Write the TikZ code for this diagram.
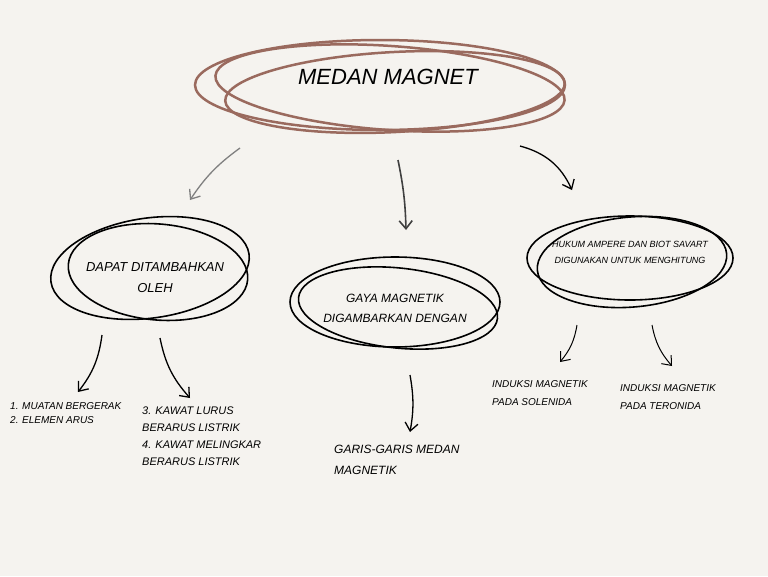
\documentclass[tikz,border=0pt]{standalone}
\usepackage{fontspec}
\setmainfont{Liberation Sans}
\usetikzlibrary{arrows.meta}
\definecolor{bg}{HTML}{F5F3EF}
\definecolor{brn}{HTML}{9A6A5E}
\begin{document}
\begin{tikzpicture}[x=1pt,y=-1pt,
  txt/.style={font=\itshape\fontsize{11}{13}\selectfont, align=left, inner sep=0pt},
  ctxt/.style={font=\itshape\fontsize{11}{13}\selectfont, align=center, inner sep=0pt},
  ink/.style={line width=1.6pt, black},
  arr/.style={line width=1.3pt, -{Straight Barb[length=8pt,width=13pt]}}]
\fill[bg] (0,0) rectangle (768,576);
\useasboundingbox (0,0) rectangle (768,576);
% title
\draw[brn, line width=2.5pt] (380,85) ellipse [x radius=185, y radius=45];
\draw[brn, line width=2.5pt, rotate around={-4:(390,88)}] (390,88) ellipse [x radius=175, y radius=42];
\draw[brn, line width=2.5pt, rotate around={3:(395,92)}] (395,92) ellipse [x radius=170, y radius=40];
\node[font=\itshape\fontsize{22}{24}\selectfont] (title) at (388,77) {MEDAN MAGNET};
% left
\draw[ink, rotate around={8:(150,268)}] (150,268) ellipse [x radius=100, y radius=50];
\draw[ink, rotate around={-5:(158,272)}] (158,272) ellipse [x radius=90, y radius=48];
\node[ctxt, font=\itshape\fontsize{13}{15}\selectfont] (left) at (155,278) {DAPAT DITAMBAHKAN\\[6pt] OLEH};
% middle
\draw[ink] (395,302) ellipse [x radius=105, y radius=45];
\draw[ink, rotate around={-6:(398,308)}] (398,308) ellipse [x radius=100, y radius=40];
\node[ctxt, font=\itshape\fontsize{12}{14}\selectfont] (mid) at (395,308) {GAYA MAGNETIK\\[6pt] DIGAMBARKAN DENGAN};
% right
\draw[ink] (630,258) ellipse [x radius=103, y radius=42];
\draw[ink, rotate around={5:(632,262)}] (632,262) ellipse [x radius=95, y radius=45];
\node[ctxt, font=\itshape\fontsize{9}{11}\selectfont] (right) at (630,252) {HUKUM AMPERE DAN BIOT SAVART\\[5pt] DIGUNAKAN UNTUK MENGHITUNG};
% leaf texts
\node[txt, anchor=north west, font=\itshape\fontsize{10}{12}\selectfont] (l1) at (10,402) {1. MUATAN BERGERAK\\[2pt]2. ELEMEN ARUS};
\node[txt, anchor=north west] (l2) at (142,407) {3. KAWAT LURUS\\[4pt]BERARUS LISTRIK\\[4pt]4. KAWAT MELINGKAR\\[4pt]BERARUS LISTRIK};
\node[txt, anchor=north west, font=\itshape\fontsize{12}{14}\selectfont] (m1) at (334,445) {GARIS-GARIS MEDAN\\[7pt]MAGNETIK};
\node[txt, anchor=north west, font=\itshape\fontsize{10}{12}\selectfont] (r1) at (492,380) {INDUKSI MAGNETIK\\[6pt]PADA SOLENIDA};
\node[txt, anchor=north west, font=\itshape\fontsize{10}{12}\selectfont] (r2) at (620,384) {INDUKSI MAGNETIK\\[6pt]PADA TERONIDA};
% arrows
\coordinate (a1s) at (240,148); \coordinate (a1e) at (190,200);
\coordinate (a2s) at (398,160); \coordinate (a2e) at (406,230);
\coordinate (a3s) at (520,146); \coordinate (a3e) at (572,190);
\draw[arr, gray] (a1s) to[bend right=10] (a1e);
\draw[arr, black!75, line width=1.6pt] (a2s) to[bend left=5] (a2e);
\draw[arr] (a3s) to[bend left=25] (a3e);
\coordinate (b1) at (102,335); \coordinate (b2) at (160,338);
\coordinate (b3) at (410,375); \coordinate (b4) at (577,325); \coordinate (b5) at (652,325);
\coordinate (c1) at (78,392); \coordinate (c2) at (190,398); \coordinate (c3) at (410,432);
\coordinate (c4) at (560,362); \coordinate (c5) at (672,366);
\draw[arr] (b1) to[bend left=15] (c1);
\draw[arr] (b2) to[bend right=15] (c2);
\draw[arr] (b3) to[bend left=10] (c3);
\draw[arr, line width=1pt] (b4) to[bend left=15] (c4);
\draw[arr, line width=1pt] (b5) to[bend right=15] (c5);
\end{tikzpicture}
\end{document}
